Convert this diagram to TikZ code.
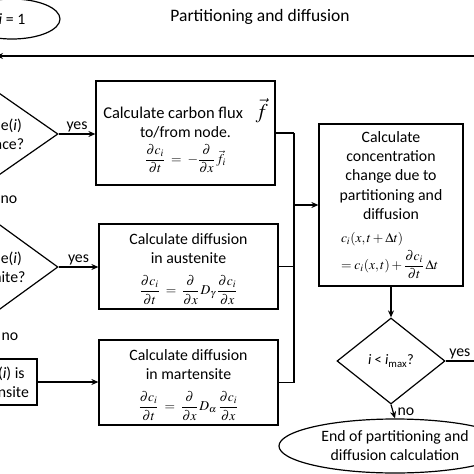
\documentclass[tikz,border=0pt]{standalone}
\usepackage{amsmath}
\usepackage{mathptmx}
\usepackage[no-math]{fontspec}
\setmainfont{Carlito}
\usetikzlibrary{shapes.geometric,arrows.meta}
\newcommand{\eqsize}{\fontsize{13.5}{15}\selectfont}
\begin{document}
\begin{tikzpicture}[x=1pt,y=-1pt, line width=1.2pt,
  font=\fontsize{15.8}{19}\selectfont,
  box/.style={draw, rectangle, inner sep=0pt, align=center},
  dia/.style={draw, diamond, aspect=1.4, inner sep=0pt, align=center},
  oval/.style={draw, ellipse, inner sep=0pt, align=center},
  arr/.style={-{Stealth[length=7pt,width=6pt]}},
  lbl/.style={inner sep=1pt}]
\useasboundingbox (0,0) rectangle (474,474);

\node[oval, minimum width=96pt, minimum height=40pt] (start) at (12,19) {\textit{i} = 1};
\node[font=\fontsize{17.5}{20}\selectfont] (title) at (260,17) {Partitioning and diffusion};

\coordinate (loopR) at (480,56);
\coordinate (loopL) at (-4,56);
\draw[arr] (loopR) -- (loopL);

\node[dia, minimum width=132pt, minimum height=92pt] (d1) at (-8,134) {Is node(\textit{i})\\interface?};
\node[dia, minimum width=132pt, minimum height=96pt] (d2) at (-8,267) {Is node(\textit{i})\\austenite?};
\node[box, minimum width=86pt, minimum height=46pt] (nm) at (-6,382) {Node(\textit{i}) is\\martensite};

\node[box, minimum width=179pt, minimum height=104pt] (b1) at (185.5,133)
  {\rule{0pt}{26pt}{\fontsize{16.5}{19}\selectfont Calculate carbon flux}\hspace{0.8em}\raisebox{0pt}[0pt][0pt]{\fontsize{21}{21}\selectfont$\vec{f}$}\\ to/from node.\\[5pt]
   {\eqsize$\dfrac{\partial c_i}{\partial t}\;=\;-\dfrac{\partial}{\partial x}\,\vec{f}_{i}$}};
\node[box, minimum width=179pt, minimum height=85pt] (b2) at (188.5,266.5)
  {\rule{0pt}{16pt}Calculate diffusion\\in austenite\\[11pt]
   {\eqsize$\dfrac{\partial c_i}{\partial t}\;=\;\dfrac{\partial}{\partial x}\,D_\gamma\,\dfrac{\partial c_i}{\partial x}$}};
\node[box, minimum width=179pt, minimum height=85pt] (b3) at (188.5,382.5)
  {\rule{0pt}{16pt}Calculate diffusion\\in martensite\\[11pt]
   {\eqsize$\dfrac{\partial c_i}{\partial t}\;=\;\dfrac{\partial}{\partial x}\,D_\alpha\,\dfrac{\partial c_i}{\partial x}$}};
\node[box, minimum width=144pt, minimum height=162pt, font=\fontsize{15.8}{19.3}\selectfont] (b4) at (391,205)
  {Calculate\\concentration\\change due to\\partitioning and\\diffusion\\[4pt]
   \makebox[100pt][l]{\eqsize$c_i(x,t+\Delta t)$}\\[3pt]
   \makebox[100pt][l]{\eqsize$=c_i(x,t)+\dfrac{\partial c_i}{\partial t}\,\Delta t$}};

\node[dia, minimum width=108pt, minimum height=86pt, font=\fontsize{14.5}{17}\selectfont] (d3) at (391,361) {\textit{i} < \textit{i}\textsubscript{max}?};
\node[oval, minimum width=232pt, minimum height=54pt] (end) at (395,446) {End of partitioning and\\diffusion calculation};

\draw[arr] (d1.east) -- node[lbl, above] {yes} (d1.east -| b1.west);
\draw[arr] (d2.east) -- node[lbl, above] {yes} (d2.east -| b2.west);
\draw[arr] (nm.east) -- (nm.east -| b3.west);
\draw (d1.south) -- node[lbl, right, xshift=7pt] {no} (d2.north);
\draw (d2.south) -- node[lbl, right, xshift=7pt] {no} (nm.north);

\coordinate (m1) at (294,133);
\draw (b1.east) -- (b1.east -| m1);
\draw (b2.east) -- (b2.east -| m1);
\draw (b3.east) -- (b3.east -| m1);
\draw (m1) -- (m1 |- b3.east);
\draw[arr] (m1 |- b4.west) -- (b4.west);

\draw[arr] (b4.south) -- (d3.north);
\draw[arr] (d3.south) -- node[lbl, right, xshift=3pt] {no} (end.north);
\coordinate (yesR) at (474,361);
\draw (d3.east) -- node[lbl, above] {yes} (yesR);
\end{tikzpicture}
\end{document}
